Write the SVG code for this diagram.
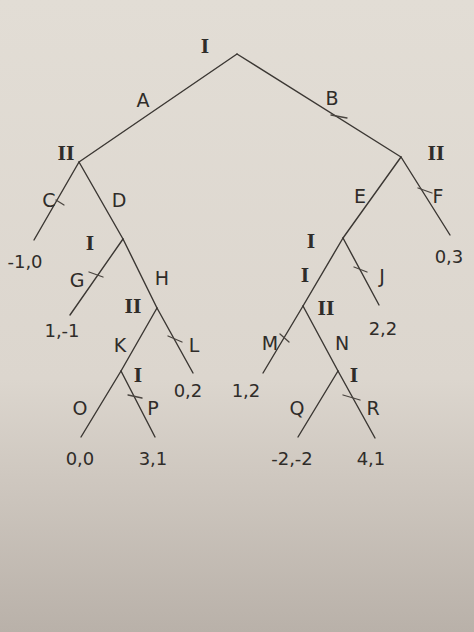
<svg xmlns="http://www.w3.org/2000/svg" width="474" height="632" viewBox="0 0 474 632">
<defs>
<linearGradient id="bg" x1="0" y1="0" x2="0" y2="1">
<stop offset="0" stop-color="#e2ddd5"/>
<stop offset="0.6" stop-color="#dcd6ce"/>
<stop offset="0.75" stop-color="#cfc8c0"/>
<stop offset="1" stop-color="#b9b1a9"/>
</linearGradient>
<style>
.e{stroke:#3b3733;stroke-width:1.4;fill:none;stroke-linecap:round}
.t{stroke:#4a4540;stroke-width:1.3;fill:none;stroke-linecap:round}
.p{font-family:"DejaVu Serif",serif;font-weight:bold;font-size:18px;fill:#2f2c29;text-anchor:middle}
.a{font-family:"DejaVu Sans",sans-serif;font-size:19px;fill:#2f2c29;text-anchor:middle}
.v{font-family:"DejaVu Sans",sans-serif;font-size:18px;fill:#2f2c29;text-anchor:middle}
</style>
</defs>
<rect width="474" height="632" fill="url(#bg)"/>

<g id="connectors">
<line class="e" x1="237" y1="54" x2="79" y2="162"/>
<line class="e" x1="237" y1="54" x2="401" y2="157"/>
<line class="e" x1="79" y1="162" x2="34" y2="240"/>
<line class="e" x1="79" y1="162" x2="123" y2="239"/>
<line class="e" x1="123" y1="239" x2="70" y2="315"/>
<line class="e" x1="123" y1="239" x2="157" y2="308"/>
<line class="e" x1="157" y1="308" x2="121" y2="371"/>
<line class="e" x1="157" y1="308" x2="193" y2="373"/>
<line class="e" x1="121" y1="371" x2="81" y2="437"/>
<line class="e" x1="121" y1="371" x2="155" y2="437"/>
<line class="e" x1="401" y1="157" x2="343" y2="238"/>
<line class="e" x1="401" y1="157" x2="450" y2="235"/>
<line class="e" x1="343" y1="238" x2="303" y2="306"/>
<line class="e" x1="343" y1="238" x2="379" y2="305"/>
<line class="e" x1="303" y1="306" x2="263" y2="373"/>
<line class="e" x1="303" y1="306" x2="338" y2="371"/>
<line class="e" x1="338" y1="371" x2="298" y2="437"/>
<line class="e" x1="338" y1="371" x2="375" y2="438"/>
<g id="ticks">
<line class="t" x1="331" y1="115" x2="347" y2="118"/>
<line class="t" x1="56" y1="200" x2="64" y2="205"/>
<line class="t" x1="89" y1="272" x2="103" y2="277"/>
<line class="t" x1="168" y1="336" x2="182" y2="342"/>
<line class="t" x1="128" y1="395" x2="142" y2="398"/>
<line class="t" x1="418" y1="188" x2="432" y2="193"/>
<line class="t" x1="354" y1="267" x2="367" y2="272"/>
<line class="t" x1="280" y1="334" x2="289" y2="342"/>
<line class="t" x1="343" y1="395" x2="360" y2="400"/>
</g>
<g id="edge-labels">
<text class="a" x="143" y="107">A</text>
<text class="a" x="332" y="105">B</text>
<text class="a" x="49" y="207">C</text>
<text class="a" x="119" y="207">D</text>
<text class="a" x="77" y="287">G</text>
<text class="a" x="162" y="285">H</text>
<text class="a" x="120" y="352">K</text>
<text class="a" x="194" y="352">L</text>
<text class="a" x="80" y="415">O</text>
<text class="a" x="153" y="415">P</text>
<text class="a" x="360" y="203">E</text>
<text class="a" x="438" y="203">F</text>
<text class="p" x="305" y="282">I</text>
<text class="a" x="382" y="283">J</text>
<text class="a" x="270" y="350">M</text>
<text class="a" x="342" y="350">N</text>
<text class="a" x="297" y="415">Q</text>
<text class="a" x="373" y="415">R</text>
</g>
</g>

<g id="n-root"><text class="p" x="205" y="53">I</text></g>
<g id="n-left-II"><text class="p" x="66" y="160">II</text></g>
<g id="n-right-II"><text class="p" x="436" y="160">II</text></g>
<g id="n-left-I"><text class="p" x="90" y="250">I</text></g>
<g id="n-left-II-2"><text class="p" x="133" y="313">II</text></g>
<g id="n-left-I-2"><text class="p" x="138" y="382">I</text></g>
<g id="n-right-I"><text class="p" x="311" y="248">I</text></g>
<g id="n-right-II-2"><text class="p" x="326" y="315">II</text></g>
<g id="n-right-I-2"><text class="p" x="354" y="382">I</text></g>

<g id="pay-C"><text class="v" x="25" y="268">-1,0</text></g>
<g id="pay-G"><text class="v" x="62" y="337">1,-1</text></g>
<g id="pay-L"><text class="v" x="188" y="397">0,2</text></g>
<g id="pay-O"><text class="v" x="80" y="465">0,0</text></g>
<g id="pay-P"><text class="v" x="153" y="465">3,1</text></g>
<g id="pay-F"><text class="v" x="449" y="263">0,3</text></g>
<g id="pay-J"><text class="v" x="383" y="335">2,2</text></g>
<g id="pay-M"><text class="v" x="246" y="397">1,2</text></g>
<g id="pay-Q"><text class="v" x="292" y="465">-2,-2</text></g>
<g id="pay-R"><text class="v" x="371" y="465">4,1</text></g>
</svg>
